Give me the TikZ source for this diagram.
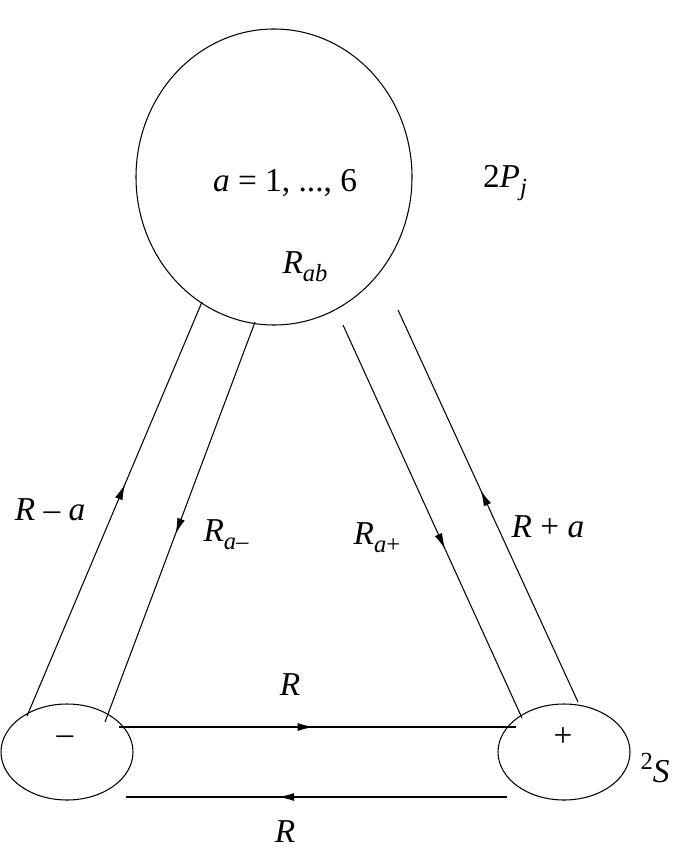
\documentclass[tikz,border=0pt]{standalone}
\usepackage{fontspec}
\setmainfont{Liberation Serif}
\usetikzlibrary{arrows.meta,decorations.markings}
\newcommand{\vi}[1]{\textit{#1}}
\tikzset{
  mid/.style={postaction={decorate},decoration={markings,
    mark=at position #1 with {\arrow{Latex[length=9pt,width=4.5pt]}}}},
  lbl/.style={font=\fontsize{19}{22}\selectfont}
}
\begin{document}
\begin{tikzpicture}[x=0.02cm,y=-0.02cm,semithick]
\useasboundingbox (0,0) rectangle (685,854);
\draw (274,177) ellipse [x radius=138, y radius=148];
\draw (67,752) ellipse [x radius=66, y radius=48];
\draw (564,752) ellipse [x radius=66, y radius=48];
\coordinate (lo1) at (27,716);  \coordinate (lo2) at (202,302);
\coordinate (li1) at (255,322); \coordinate (li2) at (105,722);
\coordinate (ri1) at (343,325); \coordinate (ri2) at (522,718);
\coordinate (ro1) at (578,702); \coordinate (ro2) at (398,310);
\coordinate (ht1) at (119,727); \coordinate (ht2) at (516,727);
\coordinate (hb1) at (507,797); \coordinate (hb2) at (126,797);
\draw[mid=0.56] (lo1) -- (lo2);
\draw[mid=0.53] (li1) -- (li2);
\draw[mid=0.57] (ri1) -- (ri2);
\draw[mid=0.54] (ro1) -- (ro2);
\draw[mid=0.49] (ht1) -- (ht2);
\draw[mid=0.6] (hb1) -- (hb2);
\node[lbl] (range) at (285,183) {\vi{a} = 1, ..., 6};
\node[lbl] (rab) at (305,267) {\vi{R}\raisebox{-0.25em}{\fontsize{14}{16}\selectfont\vi{ab}}};
\node[lbl] (p) at (505,183) {2\vi{P}\raisebox{-0.25em}{\fontsize{14}{16}\selectfont\vi{j}}};
\node[lbl] (rma) at (50,510) {\vi{R} \textendash{} \vi{a}};
\node[lbl] (ram) at (226,535) {\vi{R}\raisebox{-0.25em}{\fontsize{14}{16}\selectfont\vi{a}\textendash}};
\node[lbl] (rap) at (377,538) {\vi{R}\raisebox{-0.25em}{\fontsize{14}{16}\selectfont\vi{a}+}};
\node[lbl] (rpa) at (548,527) {\vi{R} + \vi{a}};
\node[lbl] (rt) at (290,685) {\vi{R}};
\node[lbl] (rb) at (285,832) {\vi{R}};
\node[lbl] (s) at (655,768) {\raisebox{0.4em}{\fontsize{14}{16}\selectfont 2}\vi{S}};
\node[lbl] (minus) at (65,740) {\textendash};
\node[lbl] (plus) at (563,737) {+};
\end{tikzpicture}
\end{document}
